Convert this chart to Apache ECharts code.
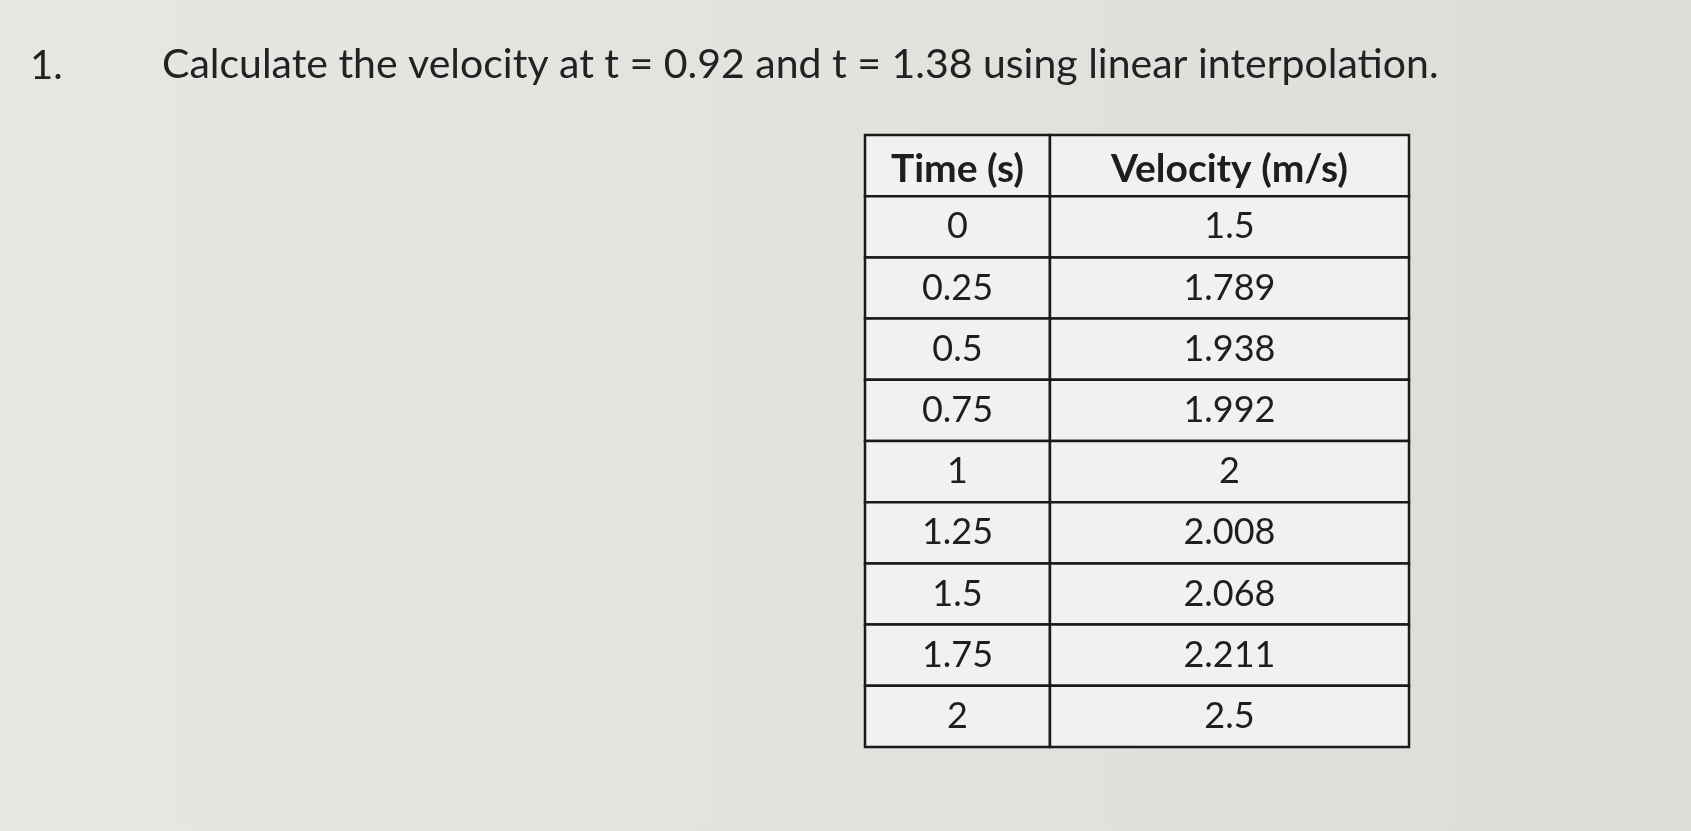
<!DOCTYPE html>
<html><head><meta charset="utf-8">
<script src="https://cdn.jsdelivr.net/npm/echarts@6/dist/echarts.min.js"></script>
<style>html,body{margin:0;padding:0;background:#e4e4e1;}#c{width:1691px;height:831px;}</style>
</head><body><div id="c"></div>
<script>
const headers = ['Time (s)', 'Velocity (m/s)'];
const times = ['0','0.25','0.5','0.75','1','1.25','1.5','1.75','2'];
const velocities = ['1.5','1.789','1.938','1.992','2','2.008','2.068','2.211','2.5'];
const question = 'Calculate the velocity at t = 0.92 and t = 1.38 using linear interpolation.';

const rows = [headers].concat(times.map((t,i)=>[t, velocities[i]]));
const cells = [];
rows.forEach((r,ri)=>r.forEach((v,ci)=>cells.push([ci, ri, v])));
const colEdges = [0, 0.34, 1];

const chart = echarts.init(document.getElementById('c'));
chart.setOption({
  backgroundColor: {type:'linear',x:0,y:0,x2:1,y2:0,colorStops:[{offset:0,color:'#e7e6e3'},{offset:0.5,color:'#e2e2df'},{offset:1,color:'#dcdcd9'}]},
  graphic: [
    {type:'text', left:30, top:46, style:{text:'1.', font:'40px Lato', fill:'#222'}},
    {type:'text', left:162, top:44, style:{text:question, font:'41px Lato', fill:'#222'}}
  ],
  grid: {left:865, top:135, width:544, height:612},
  xAxis: {type:'value', min:0, max:1, show:false},
  yAxis: {type:'value', min:0, max:rows.length, inverse:true, show:false},
  series: [{
    type:'custom',
    data: cells,
    renderItem: function(params, api){
      const c = api.value(0), r = api.value(1);
      const p0 = api.coord([colEdges[c], r]);
      const p1 = api.coord([colEdges[c+1], r+1]);
      const txt = rows[r][c];
      return {type:'group', children:[
        {type:'rect', shape:{x:p0[0], y:p0[1], width:p1[0]-p0[0], height:p1[1]-p0[1]},
         style:{fill:'#f1f1ef', stroke:'#1a1a1a', lineWidth:2.5}},
        {type:'text', style:{text:txt, x:(p0[0]+p1[0])/2, y:(p0[1]+p1[1])/2 + (r===0?4:0),
         align:'center', verticalAlign:'middle',
         font:(r===0?'bold 39px':'36px')+' Lato', fill:'#1e1e1e'}}
      ]};
    }
  }]
});
</script></body></html>
